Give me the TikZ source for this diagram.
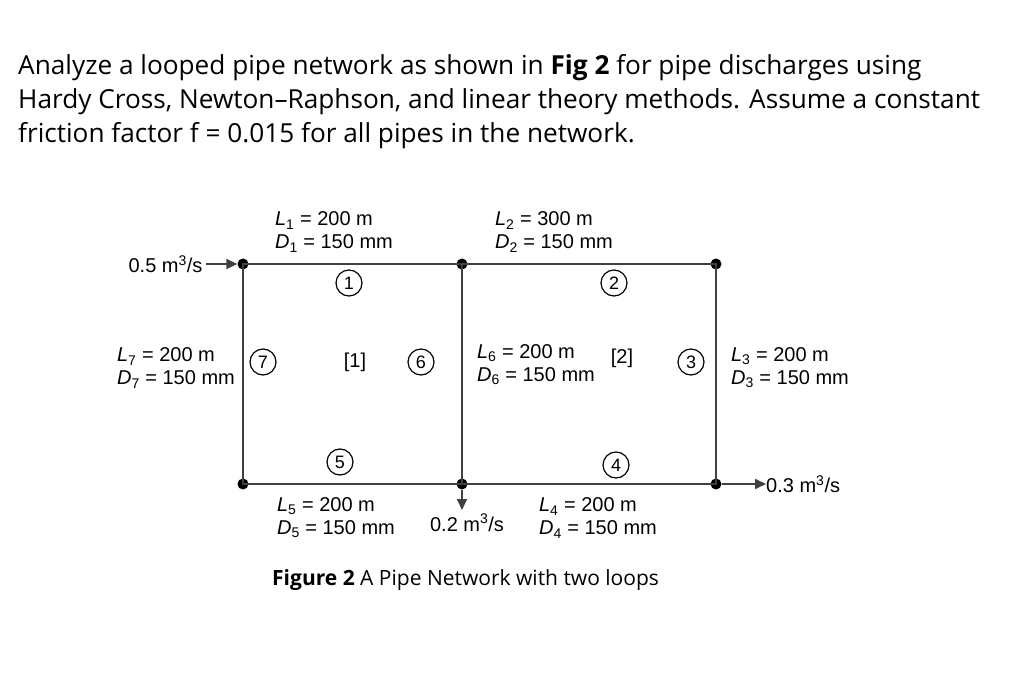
\documentclass[tikz,border=0pt]{standalone}
\usepackage{fontspec}
\setmainfont{Liberation Sans}
\newfontfamily\qfont{Open Sans}
\usetikzlibrary{arrows.meta}
\begin{document}
\begin{tikzpicture}[x=1pt,y=-1pt,
  pipe/.style={draw=black!75,line width=2pt},
  jn/.style={circle,fill=black,inner sep=0pt,minimum size=11pt},
  lbl/.style={font=\fontsize{20}{23}\selectfont,align=left,inner sep=0pt},
  num/.style={circle,draw,line width=1.2pt,inner sep=0pt,minimum size=26pt,font=\fontsize{18}{18}\selectfont},
  flow/.style={draw=black!75,line width=1.8pt,-{Triangle[length=11pt,width=10pt]}}]
\useasboundingbox (0,0) rectangle (1020,684);
\node[anchor=north west,inner sep=0pt,align=left,font=\qfont\fontsize{26.2}{34}\selectfont] (q) at (18,54)
{Analyze a looped pipe network as shown in \textbf{Fig 2} for pipe discharges using\\
Hardy Cross, Newton–Raphson, and linear theory methods. Assume a constant\\
friction factor f = 0.015 for all pipes in the network.};
\node[jn] (a) at (243,264) {};
\node[jn] (b) at (462,264) {};
\node[jn] (c) at (716,264) {};
\node[jn] (d) at (243,484) {};
\node[jn] (e) at (462,484) {};
\node[jn] (f) at (716,484) {};
\draw[pipe] (a.center)--(b.center)--(c.center)--(f.center)--(e.center)--(d.center)--cycle;
\draw[pipe] (b.center)--(e.center);
\coordinate (in) at (206,264);
\coordinate (out) at (766,484);
\coordinate (dn) at (462,510);
\draw[flow] (in)--(a);
\draw[flow] (f)--(out);
\draw[flow] (e)--(dn);
\node[lbl,anchor=east] (qin) at (in) {0.5 m\textsuperscript{3}/s\,};
\node[lbl,anchor=west] (qout) at (out) {0.3 m\textsuperscript{3}/s};
\node[lbl,anchor=north] (qdn) at (467,514) {0.2 m\textsuperscript{3}/s};
\node[lbl] (l1) at (334,232) {\textit{L}\textsubscript{1} = 200 m\\\textit{D}\textsubscript{1} = 150 mm};
\node[lbl] (l2) at (554,232) {\textit{L}\textsubscript{2} = 300 m\\\textit{D}\textsubscript{2} = 150 mm};
\node[lbl] (l7) at (176,368) {\textit{L}\textsubscript{7} = 200 m\\\textit{D}\textsubscript{7} = 150 mm};
\node[lbl] (l6) at (536,365) {\textit{L}\textsubscript{6} = 200 m\\\textit{D}\textsubscript{6} = 150 mm};
\node[lbl] (l3) at (790,368) {\textit{L}\textsubscript{3} = 200 m\\\textit{D}\textsubscript{3} = 150 mm};
\node[lbl] (l5) at (336,518) {\textit{L}\textsubscript{5} = 200 m\\\textit{D}\textsubscript{5} = 150 mm};
\node[lbl] (l4) at (598,518) {\textit{L}\textsubscript{4} = 200 m\\\textit{D}\textsubscript{4} = 150 mm};
\node[num] (n1) at (349,283) {1};
\node[num] (n2) at (614,283) {2};
\node[num] (n3) at (691,362) {3};
\node[num] (n4) at (616,465) {4};
\node[num] (n5) at (340,462) {5};
\node[num] (n6) at (421,362) {6};
\node[num] (n7) at (263,362) {7};
\node[lbl] (r1) at (355,362) {[1]};
\node[lbl] (r2) at (622,358) {[2]};
\node[anchor=west,inner sep=0pt,font=\qfont\fontsize{21}{23}\selectfont] (cap) at (272,580) {\textbf{Figure 2} A Pipe Network with two loops};
\end{tikzpicture}
\end{document}
